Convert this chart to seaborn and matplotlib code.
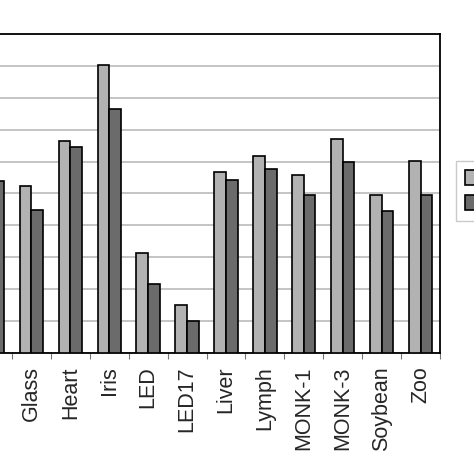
import matplotlib
matplotlib.use("Agg")
import matplotlib.pyplot as plt
import pandas as pd
import seaborn as sns

# data (grid units, 0..10)
datasets = ["German", "Glass", "Heart", "Iris", "LED", "LED17", "Liver",
            "Lymph", "MONK-1", "MONK-3", "Soybean", "Zoo"]
series_names = ["Series 1", "Series 2"]
light_vals = [5.6, 5.22, 6.63, 9.04, 3.13, 1.49, 5.67, 6.18, 5.58, 6.71, 4.96, 6.03]
dark_vals = [5.38, 4.49, 6.45, 7.66, 2.17, 0.99, 5.42, 5.78, 4.96, 5.98, 4.46, 4.96]
bar_colors = ["#b2b2b2", "#6b6b6b"]

df = pd.DataFrame({
    "dataset": datasets * 2,
    "series": [series_names[0]] * len(datasets) + [series_names[1]] * len(datasets),
    "value": light_vals + dark_vals,
})

sns.set_style("white")
plt.rcParams['font.family'] = ['Liberation Sans', 'DejaVu Sans']

fig = plt.figure(figsize=(4.74, 4.74), dpi=100)
# the reference is a crop: the left part of the axes lies outside the canvas
ax = fig.add_axes([-0.0568, 0.2553, 0.985, 0.673])

sns.barplot(data=df, x="dataset", y="value", hue="series", order=datasets,
            hue_order=series_names, palette=bar_colors, width=0.6,
            edgecolor="black", linewidth=1.2, ax=ax, zorder=3)

ax.set_xlim(-0.5, len(datasets) - 0.5)
ax.set_ylim(0, 10)
ax.set_yticks(range(0, 11))
ax.yaxis.grid(True, color="#b4b4b4", linewidth=1.1, zorder=0)
ax.set_axisbelow(True)
ax.tick_params(axis="y", left=False, labelleft=False)

# category ticks sit between the categories, labels at the centres
ax.set_xticks([i + 0.5 for i in range(len(datasets))])
ax.set_xticklabels([])
ax.set_xticks(range(len(datasets)), minor=True)
ax.set_xticklabels(datasets, minor=True, rotation=90, fontsize=15.5)
ax.tick_params(axis="x", which="major", direction="out", length=4.3,
               width=0.8, color="#777777", bottom=True)
ax.tick_params(axis="x", which="minor", length=0, pad=9.5)
ax.set_xlabel("")
ax.set_ylabel("")

for side in ["top", "right", "bottom", "left"]:
    ax.spines[side].set_visible(True)
    ax.spines[side].set_color("black")
    ax.spines[side].set_linewidth(1.3)

ax.legend_.remove()
handles, labels = ax.get_legend_handles_labels()
leg = fig.legend(handles, labels, loc="upper left", bbox_to_anchor=(0.962, 0.661),
                 borderaxespad=0, frameon=True, fancybox=False, fontsize=13,
                 handlelength=0.9, handleheight=0.9, labelspacing=0.4,
                 borderpad=0.5, handletextpad=0.6)
leg.get_frame().set_edgecolor("#bdbdbd")
leg.get_frame().set_linewidth(1.0)

fig.savefig("out.png", dpi=100)
